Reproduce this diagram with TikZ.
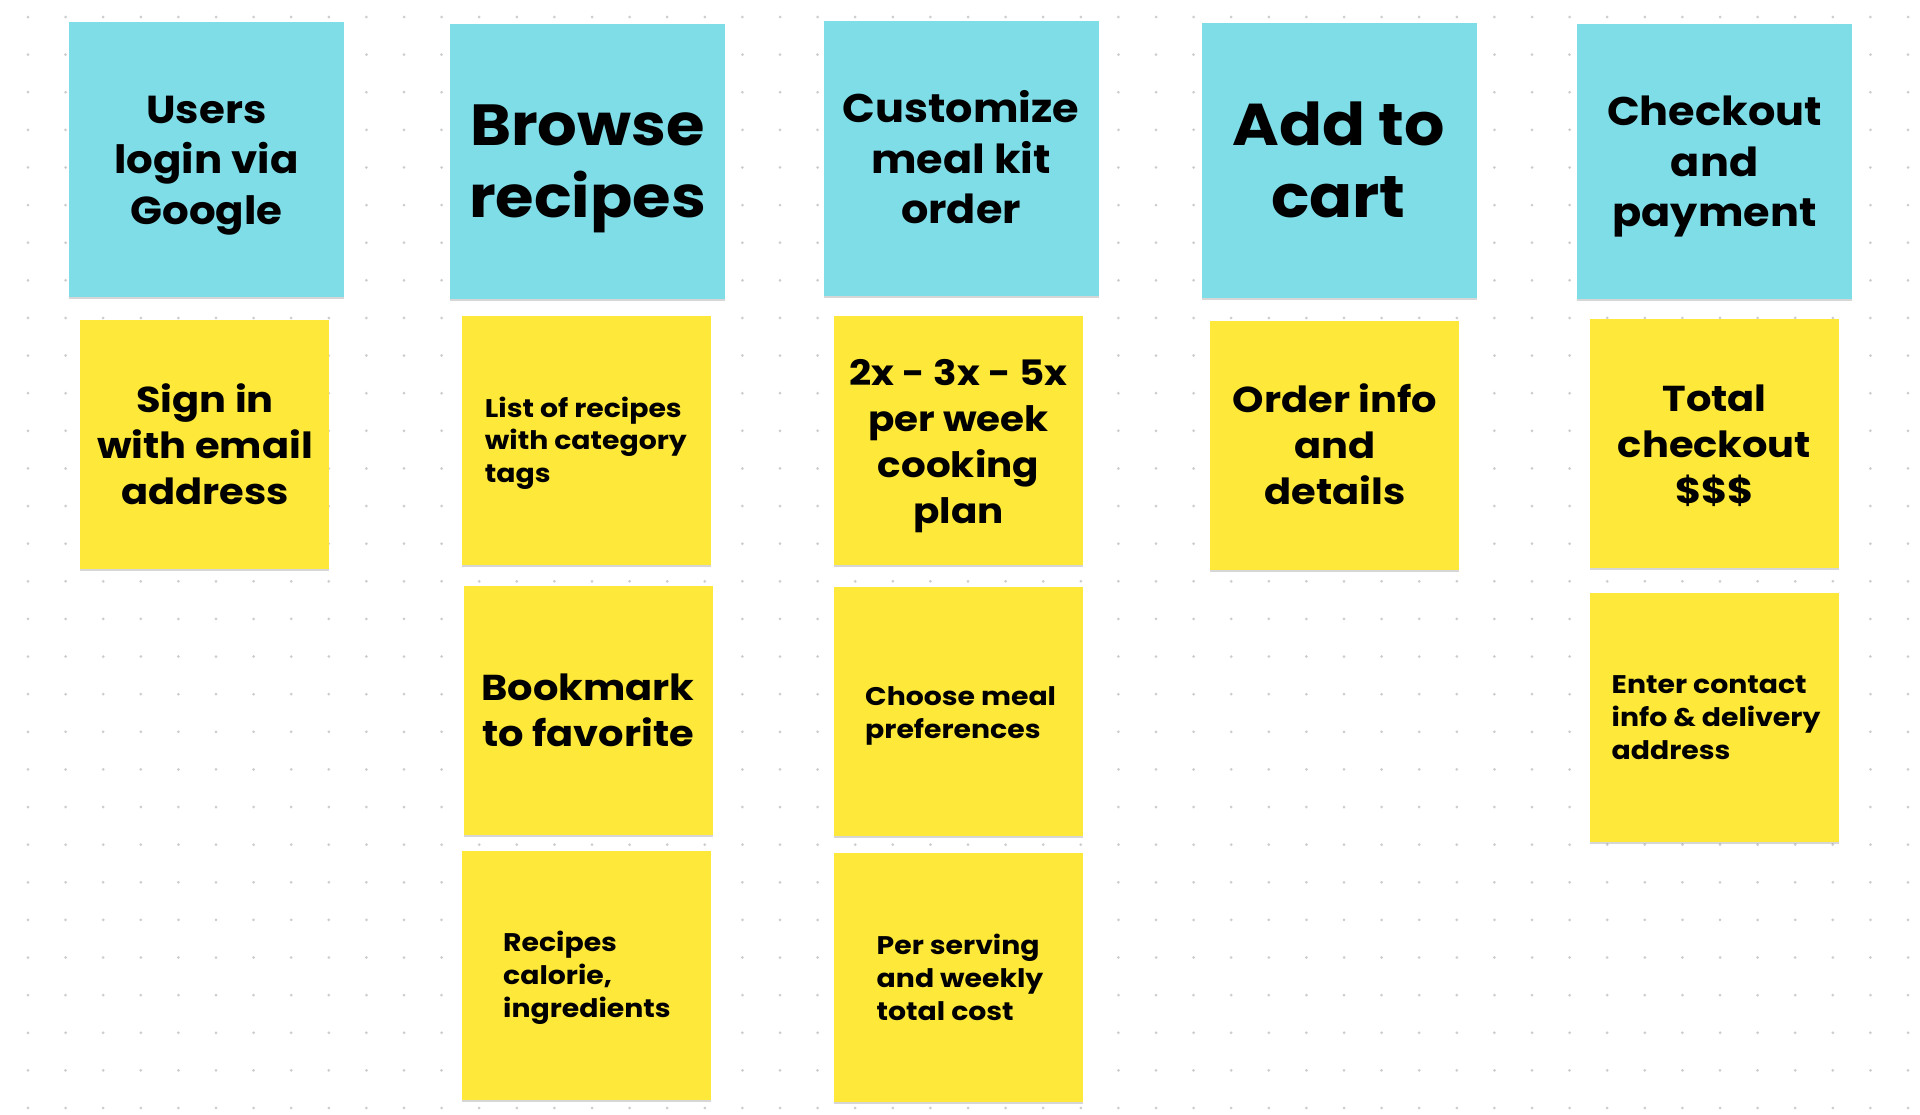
\documentclass[tikz,border=0pt]{standalone}
\usepackage{fontspec}
\setmainfont{Poppins}
\newfontfamily\blufont{Poppins}[FakeStretch=1.075]
\newfontfamily\yelfont{Poppins}[FakeStretch=1.11]
\usetikzlibrary{shadows}
\definecolor{stickyblue}{RGB}{127,221,232}
\definecolor{stickyyellow}{RGB}{254,232,58}
\definecolor{dotgray}{RGB}{205,205,205}
\newcommand{\ctext}[4]{\vtop{\hsize=320pt\parindent=0pt\centering#1\fontsize{#2}{#3}\selectfont\bfseries #4\par}}
\newcommand{\ltext}[3]{\vtop{\hsize=260pt\parindent=0pt\raggedright\yelfont\fontsize{#1}{#2}\selectfont\bfseries #3\par}}
\tikzset{
  note/.style={anchor=north west, inner sep=0, outer sep=0, draw=none,
    drop shadow={shadow xshift=0pt, shadow yshift=-2pt, opacity=0.16, fill=black}},
  bluenote/.style={note, fill=stickyblue, minimum width=275, minimum height=275},
  yellownote/.style={note, fill=stickyyellow, minimum width=249, minimum height=249},
  ctxt/.style={anchor=base, inner sep=0, text=black},
  ltxt/.style={anchor=base west, inner sep=0, text=black},
}
\begin{document}
\begin{tikzpicture}[x=1pt,y=-1pt]
\useasboundingbox (0,0) rectangle (1920,1114);
\fill[white] (0,0) rectangle (1920,1114);
% dot grid
\foreach \i in {0,...,50}{
  \foreach \j in {0,...,29}{
    \fill[dotgray] ({28+\i*37.6},{17+\j*37.62}) circle (1.5);
  }
}
% header notes
\node[bluenote] (b1) at (69,22) {};
\node[bluenote] (b2) at (450,24) {};
\node[bluenote] (b3) at (824,21) {};
\node[bluenote] (b4) at (1201.5,23) {};
\node[bluenote] (b5) at (1577,24) {};
% yellow notes
\node[yellownote] (y11) at (80,320) {};
\node[yellownote] (y21) at (461.5,316) {};
\node[yellownote] (y31) at (834,316) {};
\node[yellownote] (y41) at (1210,321) {};
\node[yellownote] (y51) at (1590,319) {};
\node[yellownote] (y22) at (463.5,585.5) {};
\node[yellownote] (y32) at (834,587) {};
\node[yellownote] (y52) at (1590,593) {};
\node[yellownote] (y23) at (461.5,850.5) {};
\node[yellownote] (y33) at (834,852.5) {};
% texts
\node[ctxt] (t1) at (206.5,123.2) {\ctext{\blufont}{39}{50.5}{Users\\login via\\Google}};
\node[ctxt] (t2) at (587.5,145.7) {\ctext{\blufont}{58}{71.5}{Browse\\recipes}};
\node[ctxt] (t3) at (961,122.5) {\ctext{\blufont}{40}{50.5}{Customize\\meal kit\\order}};
\node[ctxt] (t4) at (1338.5,145) {\ctext{\blufont}{59}{72}{Add to\\cart}};
\node[ctxt] (t5) at (1714.5,125.5) {\ctext{\blufont}{40}{50.5}{Checkout\\and\\payment}};
\node[ctxt] (t11) at (205,412) {\ctext{\yelfont}{36}{46}{Sign in\\with email\\address}};
\node[ltxt] (t21) at (484.7,417) {\ltext{25.5}{32.5}{List of recipes\\with category\\tags}};
\node[ctxt] (t31) at (958.5,385) {\ctext{\yelfont}{35}{46}{2x - 3x - 5x\\per week\\cooking\\plan}};
\node[ctxt] (t41) at (1335,412.5) {\ctext{\yelfont}{36}{46}{Order info\\and\\details}};
\node[ctxt] (t51) at (1714.5,411.5) {\ctext{\yelfont}{36}{46}{Total\\checkout\\\$\$\$}};
\node[ctxt] (t22) at (588,700.5) {\ctext{\yelfont}{36}{46}{Bookmark\\to favorite}};
\node[ltxt] (t32) at (865,705) {\ltext{25.5}{33}{Choose meal\\preferences}};
\node[ltxt] (t52) at (1611.5,693.5) {\ltext{25.5}{33}{Enter contact\\info \& delivery\\address}};
\node[ltxt] (t23) at (503,951.5) {\ltext{25.5}{33}{Recipes\\calorie,\\ingredients}};
\node[ltxt] (t33) at (876.5,954.5) {\ltext{25.5}{33}{Per serving\\and weekly\\total cost}};
\end{tikzpicture}
\end{document}
